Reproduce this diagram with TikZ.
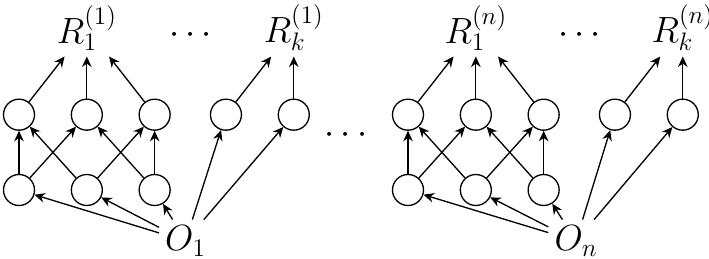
\documentclass[tikz,border=0pt]{standalone}
\usetikzlibrary{arrows.meta,positioning,calc}

\begin{document}
\begin{tikzpicture}[
  font=\fontsize{21}{25}\selectfont,
  node distance=0.84cm and 0.71cm,
  unit/.style={circle, draw, line width=0.75pt, minimum size=0.62cm, inner sep=0pt},
  arrow/.style={-{Stealth[length=6pt, width=5.5pt, inset=2pt]}, line width=0.75pt}
]
  \useasboundingbox (0,0) rectangle (14.18,5.16);

  % first block
  \node[unit] (b1a) at (0.38,1.36) {};
  \node[unit, right=of b1a] (b1b) {};
  \node[unit, right=of b1b] (b1c) {};
  \node[unit, above=0.86cm of b1a] (t1a) {};
  \node[unit, above=0.86cm of b1b] (t1b) {};
  \node[unit, above=0.86cm of b1c] (t1c) {};
  \node[unit, right=0.78cm of t1c] (t1d) {};
  \node[unit, right=of t1d] (t1e) {};
  \node[above=of t1b] (r1first) {$R_1^{(1)}$};
  \node[above=of t1e] (r1last)  {$R_k^{(1)}$};
  \node[anchor=base] (dots1) at ($(r1first.base)!0.5!(r1last.base)$) {$\cdots$};
  \node (o1) at (3.71,0.34) {$O_1$};

  % gap between blocks
  \node (dotsmid) at (6.92,2.46) {$\cdots$};

  % second block
  \node[unit] (b2a) at (8.16,1.36) {};
  \node[unit, right=of b2a] (b2b) {};
  \node[unit, right=of b2b] (b2c) {};
  \node[unit, above=0.86cm of b2a] (t2a) {};
  \node[unit, above=0.86cm of b2b] (t2b) {};
  \node[unit, above=0.86cm of b2c] (t2c) {};
  \node[unit, right=0.78cm of t2c] (t2d) {};
  \node[unit, right=of t2d] (t2e) {};
  \node[above=of t2b] (r2first) {$R_1^{(n)}$};
  \node[above=of t2e] (r2last)  {$R_k^{(n)}$};
  \node[anchor=base] (dots2) at ($(r2first.base)!0.5!(r2last.base)$) {$\cdots$};
  \node (o2) at (11.52,0.34) {$O_n$};

  % connections, first block
  \draw[arrow] (b1a) -- (t1a);
  \draw[arrow] (b1a) -- (t1b);
  \draw[arrow] (b1b) -- (t1a);
  \draw[arrow] (b1b) -- (t1c);
  \draw[arrow] (b1c) -- (t1b);
  \draw[arrow] (b1c) -- (t1c);
  \draw[arrow] (t1a) -- (r1first);
  \draw[arrow] (t1b) -- (r1first);
  \draw[arrow] (t1c) -- (r1first);
  \draw[arrow] (t1d) -- (r1last);
  \draw[arrow] (t1e) -- (r1last);
  \draw[arrow] (o1) -- (b1a);
  \draw[arrow] (o1) -- (b1b);
  \draw[arrow] (o1) -- (b1c);
  \draw[arrow] (o1) -- (t1d);
  \draw[arrow] (o1) -- (t1e);

  % connections, second block
  \draw[arrow] (b2a) -- (t2a);
  \draw[arrow] (b2a) -- (t2b);
  \draw[arrow] (b2b) -- (t2a);
  \draw[arrow] (b2b) -- (t2c);
  \draw[arrow] (b2c) -- (t2b);
  \draw[arrow] (b2c) -- (t2c);
  \draw[arrow] (t2a) -- (r2first);
  \draw[arrow] (t2b) -- (r2first);
  \draw[arrow] (t2c) -- (r2first);
  \draw[arrow] (t2d) -- (r2last);
  \draw[arrow] (t2e) -- (r2last);
  \draw[arrow] (o2) -- (b2a);
  \draw[arrow] (o2) -- (b2b);
  \draw[arrow] (o2) -- (b2c);
  \draw[arrow] (o2) -- (t2d);
  \draw[arrow] (o2) -- (t2e);
\end{tikzpicture}
\end{document}
